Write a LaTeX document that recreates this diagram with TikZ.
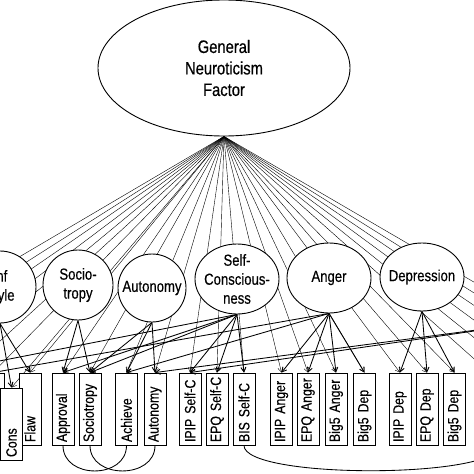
\documentclass[tikz,border=0pt]{standalone}
\usepackage{fontspec}
\setmainfont{Liberation Sans}[FakeStretch=0.82,FakeBold=0.4]
\usetikzlibrary{shapes.geometric,arrows.meta,backgrounds}
\tikzset{
  latent/.style={draw,ellipse,fill=white,line width=0.9pt,inner sep=-20pt,align=center,
    font=\fontsize{16}{19}\selectfont},
  obs/.style={draw,rectangle,fill=white,line width=0.9pt,rotate=90,minimum width=72pt,
    minimum height=22pt,inner sep=0pt,text width=66pt,align=left,
    font=\fontsize{15}{17}\selectfont},
}
\begin{document}
\begin{tikzpicture}[x=1pt,y=-1pt,line width=0.85pt,>={Straight Barb[length=4.5pt,width=5pt]}]
      \useasboundingbox (0,0) rectangle (474,474);
      % factors
      \node[latent,minimum width=252pt,minimum height=136pt,
        font=\fontsize{18}{21.5}\selectfont] (g) at (224,68) {General\\Neuroticism\\Factor};
      \node[latent,minimum width=72pt,minimum height=72pt] (inf) at (0,287) {Inf\\Style};
      \node[latent,minimum width=70pt,minimum height=70pt] (soc) at (78,285) {Socio-\\tropy};
      \node[latent,minimum width=68pt,minimum height=68pt] (aut) at (152,288) {Autonomy};
      \node[latent,minimum width=84pt,minimum height=70pt] (slf) at (237,279) {Self-\\Conscious-\\ness};
      \node[latent,minimum width=84pt,minimum height=70pt] (ang) at (329,278) {Anger};
      \node[latent,minimum width=84pt,minimum height=68pt] (dep) at (422,277) {Depression};
      \coordinate (rf) at (522,324);
      % measures
      \node[obs] (cau) at (-7,409) {};
      \node[obs] (flaw) at (30,409) {Flaw};
      \node[obs] (cons) at (11.5,424) {Cons};
      \node[obs] (apr) at (63,409) {Approval};
      \node[obs] (sct) at (90,409) {Sociotropy};
      \node[obs] (ach) at (126.5,409) {Achieve};
      \node[obs] (atm) at (155,409) {Autonomy};
      \node[obs] (ips) at (190,409) {IPIP Self-C};
      \node[obs] (eps) at (217,409) {EPQ Self-C};
      \node[obs] (bis) at (244,409) {BIS Self-C};
      \node[obs] (ipa) at (281.5,409) {IPIP Anger};
      \node[obs] (epa) at (308,409) {EPQ Anger};
      \node[obs] (bga) at (336,409) {Big5 Anger};
      \node[obs] (bgd) at (364.5,409) {Big5 Dep};
      \node[obs] (ipd) at (400,409) {IPIP Dep};
      \node[obs] (epd) at (427,409) {EPQ Dep};
      \node[obs] (bdp) at (454.5,409) {Big5 Dep};
      \coordinate (l1) at (-35,373);
      \coordinate (l2) at (-62,373);
      \coordinate (l3) at (-90,373);
      \coordinate (l4) at (-120,373);
      \coordinate (l5) at (-148,373);
      \coordinate (l6) at (-178,373);
      \coordinate (r1) at (490,373);
      \coordinate (r2) at (518,373);
      \coordinate (r3) at (546,373);
      \coordinate (r4) at (574,373);
      \coordinate (r5) at (602,373);
      \coordinate (r6) at (630,373);
      \coordinate (rx) at (500,445);
      % general factor loadings
      \begin{scope}[on background layer,->]
        \draw (g.south) to (l6);
        \draw (g.south) to (l5);
        \draw (g.south) to (l4);
        \draw (g.south) to (l3);
        \draw (g.south) to (l2);
        \draw (g.south) to (l1);
        \draw (g.south) to (cau.east);
        \draw (g.south) to (cons.east);
        \draw (g.south) to (flaw.east);
        \draw (g.south) to (apr.east);
        \draw (g.south) to (sct.east);
        \draw (g.south) to (ach.east);
        \draw (g.south) to (atm.east);
        \draw (g.south) to (ips.east);
        \draw (g.south) to (eps.east);
        \draw (g.south) to (bis.east);
        \draw (g.south) to (ipa.east);
        \draw (g.south) to (epa.east);
        \draw (g.south) to (bga.east);
        \draw (g.south) to (bgd.east);
        \draw (g.south) to (ipd.east);
        \draw (g.south) to (epd.east);
        \draw (g.south) to (bdp.east);
        \draw (g.south) to (r1);
        \draw (g.south) to (r2);
        \draw (g.south) to (r3);
        \draw (g.south) to (r4);
        \draw (g.south) to (r5);
        \draw (g.south) to (r6);
      \end{scope}
      % specific factor loadings
      \begin{scope}[->]
        \draw (inf.south) to (cau.east);
        \draw (inf.south) to (cons.east);
        \draw (inf.south) to (flaw.east);
        \draw (soc.south) to (apr.east);
        \draw (soc.south) to (sct.east);
        \draw (aut.south) to (ach.east);
        \draw (aut.south) to (atm.east);
        \draw (aut.south) to (sct.east);
        \draw (slf.south) to (ips.east);
        \draw (slf.south) to (eps.east);
        \draw (slf.south) to (bis.east);
        \draw (slf.south) to (apr.east);
        \draw (slf.south) to (sct.east);
        \draw (slf.south) to (l2);
        \draw (ang.south) to (ipa.east);
        \draw (ang.south) to (epa.east);
        \draw (ang.south) to (bga.east);
        \draw (ang.south) to (bgd.east);
        \draw (ang.south) to (ach.east);
        \draw (ang.south) to (cau.east);
        \draw (dep.south) to (ipd.east);
        \draw (dep.south) to (epd.east);
        \draw (dep.south) to (bdp.east);
        \draw (rf) to (atm.east);
        \draw (rf) to (ips.east);
      \end{scope}
      % correlated residuals
      \draw (apr.west) .. controls +(0,34) and +(0,34) .. (ach.west);
      \draw (sct.west) .. controls +(0,34) and +(0,34) .. (atm.west);
      \draw (bis.west) .. controls +(0,34) and +(0,34) .. (rx);
    \end{tikzpicture}
\end{document}
